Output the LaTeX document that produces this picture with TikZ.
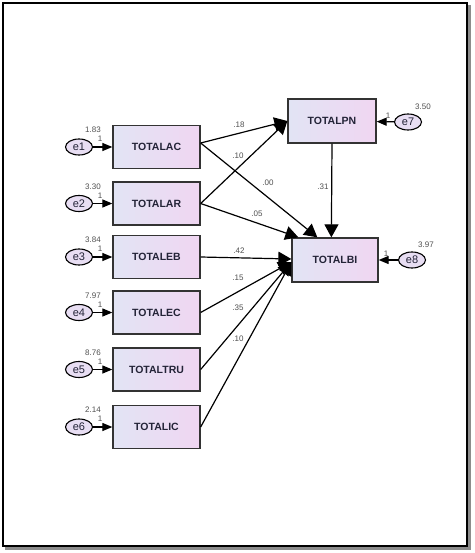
\documentclass[tikz,border=0pt]{standalone}
\usepackage{fontspec}
\setmainfont{Liberation Sans}
\usetikzlibrary{arrows.meta,calc,shapes.geometric}
\definecolor{boxL}{RGB}{226,228,244}
\definecolor{boxR}{RGB}{240,214,242}
\definecolor{numgray}{RGB}{80,80,80}
\definecolor{txt}{RGB}{35,35,55}
\tikzset{
  varbox/.style={draw=black!80, line width=1.3pt, left color=boxL, right color=boxR,
    minimum width=87pt, minimum height=43pt, inner sep=0pt,
    font=\fontsize{10.5}{12}\selectfont\bfseries, text=txt},
  errnode/.style={draw=black, line width=1.1pt, ellipse, fill=boxL!60!boxR,
    minimum width=27pt, minimum height=16pt, inner sep=0pt,
    font=\fontsize{11}{12}\selectfont, text=txt},
  num/.style={font=\fontsize{8}{9}\selectfont, text=numgray, inner sep=0pt},
  sempath/.style={line width=1.2pt, -{Triangle[length=13pt,width=14pt]}},
  errarr/.style={line width=1.2pt, -{Triangle[length=10pt,width=8pt]}},
}
\begin{document}
\begin{tikzpicture}[x=1pt,y=-1pt]
\useasboundingbox (0,0) rectangle (474,553);
% frame
\fill[black!45] (5,5) rectangle (471,550);
\draw[fill=white, line width=2pt] (3,3) rectangle (467,546);
% observed variables
\node[varbox] (ac)  at (156.5,147)   {TOTALAC};
\node[varbox] (ar)  at (156.5,203.5) {TOTALAR};
\node[varbox] (eb)  at (156.5,257)   {TOTALEB};
\node[varbox] (ec)  at (156.5,312.5) {TOTALEC};
\node[varbox] (tru) at (156.5,369.5) {TOTALTRU};
\node[varbox] (ic)  at (156.5,427)   {TOTALIC};
\node[varbox, minimum width=88pt, minimum height=44pt] (pn) at (332,121) {TOTALPN};
\node[varbox, minimum width=86pt, minimum height=44pt] (bi) at (335,260) {TOTALBI};
% errors
\node[errnode] (e1) at (79,147)   {e1};
\node[errnode] (e2) at (79,203.5) {e2};
\node[errnode] (e3) at (79,257)   {e3};
\node[errnode] (e4) at (79,312.5) {e4};
\node[errnode] (e5) at (79,369.5) {e5};
\node[errnode] (e6) at (79,427)   {e6};
\node[errnode] (e7) at (408,122)  {e7};
\node[errnode] (e8) at (412,260)  {e8};
% error arrows
\foreach \e/\v in {e1/ac,e2/ar,e3/eb,e4/ec,e5/tru,e6/ic}
  \draw[errarr] (\e) -- (\v);
\draw[errarr] (e7) -- (pn);
\draw[errarr] (e8) -- (bi);
% variances and weights
\foreach \y/\t in {147/1.83,203.5/3.30,257/3.84,312.5/7.97,369.5/8.76,427/2.14}{
  \node[num] at (93,\y-17) {\t};
  \node[num] at (100,\y-8) {1};
}
\node[num] at (423,107) {3.50};
\node[num] at (388,116) {1};
\node[num] at (426,245) {3.97};
\node[num] at (386,254) {1};
% structural paths
\coordinate (acO) at ($(ac.east)+(0,-4)$);
\draw[sempath] (acO) -- (pn.west);
\draw[sempath] (acO) -- ($(bi.north west)+(26,0)$);
\draw[sempath] (ar.east) -- (pn.west);
\draw[sempath] (ar.east) -- ($(bi.north west)+(7,0)$);
\draw[sempath] (pn.south) -- ($(bi.north west)+(40,0)$);
\coordinate (biIn) at ($(bi.west)+(0,2)$);
\draw[sempath] (eb.east) -- ($(bi.west)+(0,-1)$);
\draw[sempath] (ec.east) -- (biIn);
\draw[sempath] (tru.east) -- (biIn);
\draw[sempath] (ic.east) -- (biIn);
% path labels
\node[num] at (239,125) {.18};
\node[num] at (238,156) {.10};
\node[num] at (268,183) {.00};
\node[num] at (257,214) {.05};
\node[num] at (323,187) {.31};
\node[num] at (239,251) {.42};
\node[num] at (238,278) {.15};
\node[num] at (238,308) {.35};
\node[num] at (238,339) {.10};
\end{tikzpicture}
\end{document}
